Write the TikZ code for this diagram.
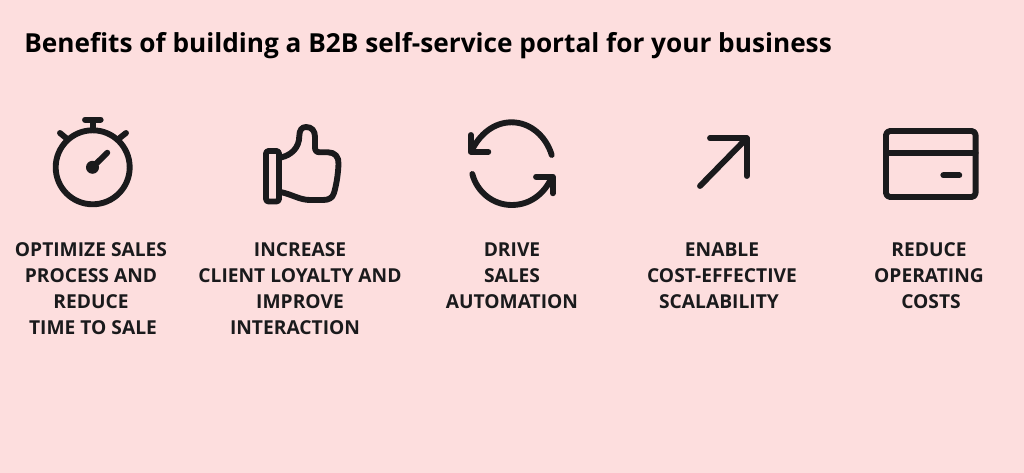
\documentclass[tikz,border=0pt]{standalone}
\usepackage{fontspec}
\setmainfont{Open Sans}
\definecolor{pagebg}{HTML}{FDDEDE}
\definecolor{ink}{HTML}{1A1A1C}
\begin{document}
\begin{tikzpicture}[
        x=0.75pt, y=-0.75pt,
        icon/.style={draw=ink, line width=4.4pt, line cap=round, line join=round},
        label/.style={text=ink, font=\fontsize{14.4}{19.5}\selectfont\bfseries, align=center, anchor=north, inner sep=0pt},
        title/.style={text=black, font=\fontsize{19.65}{24}\selectfont\bfseries, anchor=west, inner sep=0pt},]

        % Background
        \fill[pagebg] (0,0) rectangle (1024,473);
        \useasboundingbox (0,0) rectangle (1024,473);

        % Title
        \node[title] (heading) at (24,46) {Benefits of building a B2B self-service portal for your business};

        % Stopwatch
        \draw[icon] (92.7,167.3) circle (37);
        \draw[icon] (85,119.7) -- (100.7,119.7);
        \draw[icon] (92.7,120) -- (92.7,130);
        \draw[icon] (60,133) -- (66,138);
        \draw[icon] (126,133) -- (119.7,138);
        \draw[icon] (92.5,167.3) -- (107.3,152.7);
        \fill[ink] (92.5,167.3) circle (6.5);

        % Thumb
        \draw[icon, rounded corners=2pt] (266,151) rectangle (279,201.5);
        \draw[icon] (281.7,157.3) .. controls (291,155) and (299.3,148) .. (299.3,136)
            .. controls (299.3,130) and (302,127) .. (306,127)
            .. controls (312,127) and (315,131) .. (315,137)
            -- (315,147) .. controls (315,150.5) and (316,152.3) .. (320,152.3)
            -- (328,152.3) .. controls (335,152.3) and (339,157) .. (338.5,164)
            .. controls (338,176) and (336,186) .. (334,193)
            .. controls (332.5,198) and (329,200) .. (323,200)
            -- (310,200) .. controls (300,200) and (292,194.5) .. (281.7,192.3);

        % Cycle
        \draw[icon] (551.7,155) .. controls (546,136) and (530,122.3) .. (511.7,122.3)
            .. controls (494,122.3) and (480,134) .. (472,150);
        \draw[icon] (470.7,135) -- (470.7,151.7) -- (488.3,151.7);
        \draw[icon] (472.3,174) .. controls (477,192) and (493,205) .. (511.7,205)
            .. controls (530,205) and (544,194) .. (551.5,178);
        \draw[icon] (536,176.7) -- (552.7,176.7) -- (552.7,193.3);

        % Arrow
        \draw[icon] (700,186) -- (746.7,138.3);
        \draw[icon] (710,138.3) -- (746.7,138.3) -- (746.7,176);

        % Card
        \draw[icon, rounded corners=3pt] (886,131) rectangle (975.6,197);
        \draw[icon] (886,152.7) -- (975.6,152.7);
        \draw[icon] (943.3,175.3) -- (959.3,175.3);

        % Labels
        \node[label] (optimize) at (91,242) {OPTIMIZE SALES\\PROCESS AND\\REDUCE\\\hspace*{3pt}TIME TO SALE};
        \node[label] (loyalty) at (300,242) {INCREASE\\CLIENT LOYALTY AND\\IMPROVE\\INTERACTION\hspace*{7.5pt}};
        \node[label] (drive) at (512,243) {DRIVE\\SALES\\AUTOMATION};
        \node[label] (enable) at (722,242) {ENABLE\\COST-EFFECTIVE\\SCALABILITY\hspace*{4.5pt}};
        \node[label] (reduce) at (929,242) {REDUCE\\OPERATING\\\hspace*{3pt}COSTS};
    \end{tikzpicture}
\end{document}
